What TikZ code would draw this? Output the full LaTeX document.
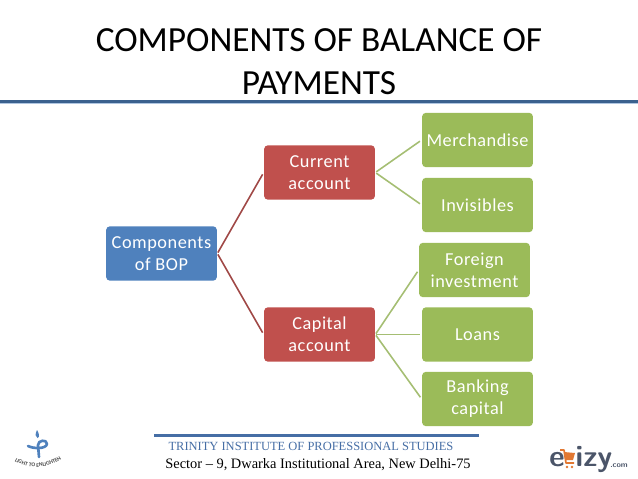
\documentclass[tikz,border=0pt]{standalone}
\usepackage{fontspec}
\setmainfont{Carlito}
\newfontfamily\footfont{Liberation Serif}
\usetikzlibrary{decorations.text}
\definecolor{bopblue}{RGB}{79,129,189}
\definecolor{bopred}{RGB}{192,80,77}
\definecolor{bopgreen}{RGB}{155,187,89}
\definecolor{linkred}{RGB}{160,72,70}
\definecolor{linkgreen}{RGB}{165,190,115}
\definecolor{footblue}{RGB}{70,110,165}
\definecolor{cartorange}{RGB}{226,120,50}
\definecolor{ezgrey}{RGB}{75,85,105}
\tikzset{
	bopbox/.style={rounded corners=2.3pt,text=white,align=center,minimum width=2.22cm,
		minimum height=1.09cm,inner sep=0pt,font=\fontsize{10.4}{12.6}\selectfont\addfontfeature{LetterSpace=3}},
	rootbox/.style={bopbox,fill=bopblue},
	midbox/.style={bopbox,fill=bopred},
	leafbox/.style={bopbox,fill=bopgreen},
	redlink/.style={draw=linkred,line width=0.9pt,shorten <=0.6pt,shorten >=1.2pt},
	greenlink/.style={draw=linkgreen,line width=0.9pt,shorten <=0.6pt,shorten >=1.2pt},
}
\begin{document}
\begin{tikzpicture}[x=0.02cm,y=-0.02cm,line join=round]
	\useasboundingbox (0,0) rectangle (638,479);
	% title
	\node[align=center,font=\fontsize{20.1}{24.4}\selectfont] (title) at (319,61.5) {COMPONENTS OF BALANCE OF\\PAYMENTS};
	\fill[bopblue!75!black] (0,100) rectangle (638,103.5);
	\fill[bopblue!45] (0,103.5) rectangle (638,104.5);
	% boxes
	\node[rootbox] (bop) at (161.5,253.5) {Components\\of BOP};
	\node[midbox] (current) at (319.5,172.5) {Current\\account};
	\node[midbox] (capital) at (319.5,334.5) {Capital\\account};
	\node[leafbox] (merch) at (477.5,140) {Merchandise};
	\node[leafbox] (invis) at (477.5,205) {Invisibles};
	\node[leafbox] (foreign) at (474.5,270) {Foreign\\investment};
	\node[leafbox] (loans) at (477.5,334.5) {Loans};
	\node[leafbox] (banking) at (477.5,399) {Banking\\capital};
	% links
	\draw[redlink] (bop.east)--(current.west);
	\draw[redlink] (bop.east)--(capital.west);
	\draw[greenlink] (current.east)--(merch.west);
	\draw[greenlink] (current.east)--(invis.west);
	\draw[greenlink] (capital.east)--(foreign.west);
	\draw[greenlink] (capital.east)--(loans.west);
	\draw[greenlink] (capital.east)--(banking.west);
	% footer
	\fill[footblue] (154,433.5) rectangle (478.5,436.5);
	\node[text=footblue,font=\footfont\fontsize{7.1}{9}\selectfont] (trinity) at (311,446.5) {TRINITY INSTITUTE OF PROFESSIONAL STUDIES};
	\node[font=\footfont\fontsize{8.2}{10}\selectfont] (sector) at (318,464.5) {Sector – 9, Dwarka Institutional Area, New Delhi-75};
	% left logo
	\fill[bopblue] (37,430) .. controls (35,434) and (35,437) .. (37.5,438) .. controls (40,437) and (39,433) .. (37,430);
	\draw[bopblue,line width=1.5pt,line cap=round] (28,446) .. controls (34,449) and (46,449) .. (47,444) .. controls (47,439) and (38,440) .. (38,445) -- (39,457);
	\path[decorate,decoration={text along path,text align=center,
		text={|\fontsize{3.2}{3}\selectfont\bfseries\color{black!70}|LIGHT TO ENLIGHTEN}}]
		(12,459) .. controls (25,470) and (50,470) .. (64,457);
	% right logo
	\node[text=ezgrey,font=\sffamily\bfseries\fontsize{17}{17}\selectfont,inner sep=0pt] (ezletter) at (557,460) {e};
	\node[text=ezgrey,font=\sffamily\bfseries\fontsize{17}{17}\selectfont,inner sep=0pt] (ezword) at (594,460) {izy};
	\node[text=ezgrey,font=\sffamily\bfseries\fontsize{4.5}{5}\selectfont,inner sep=0pt] (ezcom) at (619,466) {.com};
	\draw[cartorange,line width=1pt] (560,450) -- (564,450) -- (566,463) -- (574,463);
	\fill[cartorange] (564,452) -- (575,453) -- (573,460) -- (566,460) -- cycle;
	\fill[cartorange] (567,467) circle (1.3) (572,467) circle (1.3);
\end{tikzpicture}
\end{document}
